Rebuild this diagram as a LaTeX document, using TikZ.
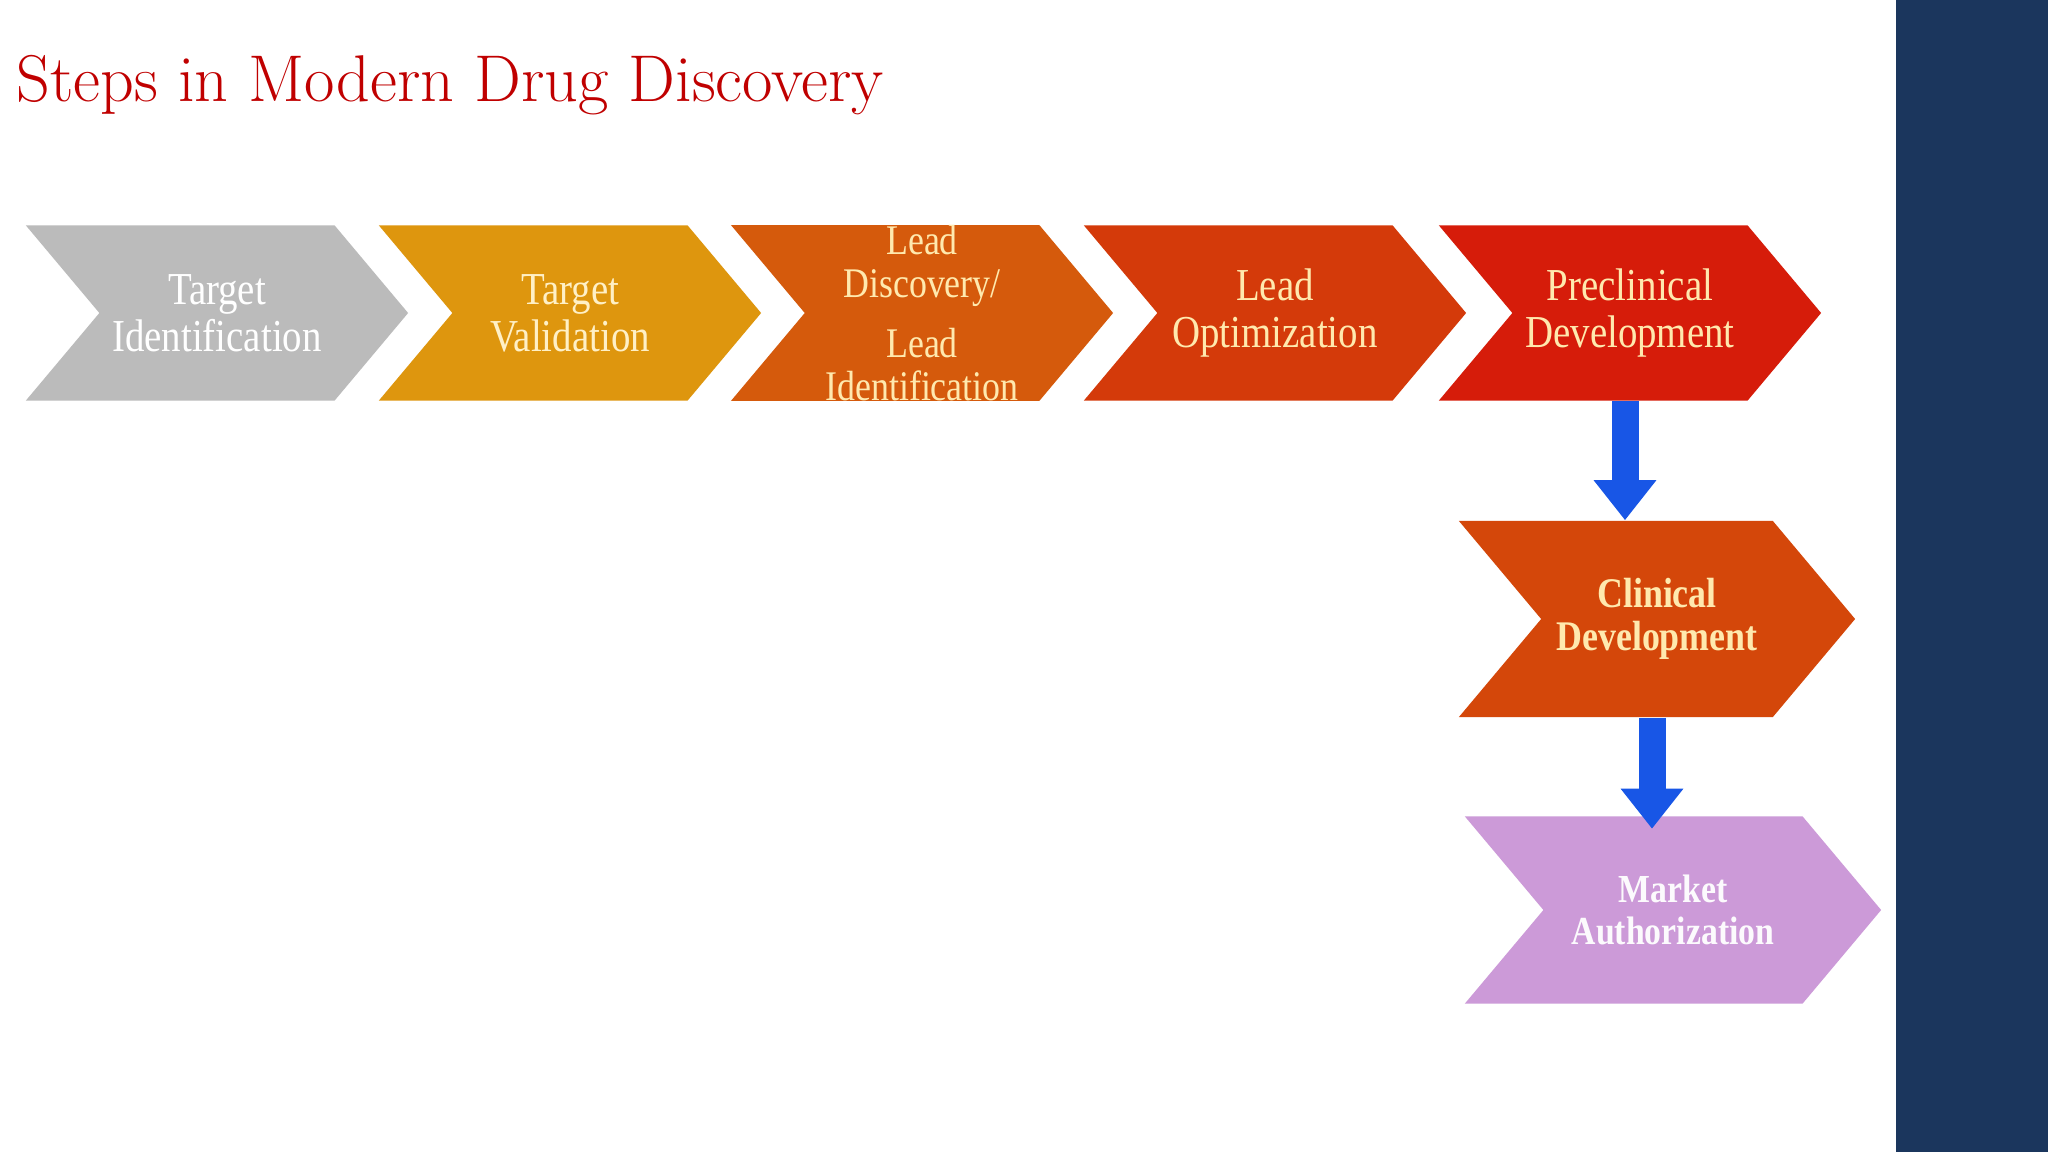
\documentclass[tikz,border=0pt]{standalone}
\usepackage{fontspec}
\usepackage{tikz}
\usetikzlibrary{arrows.meta, positioning, calc, shapes.symbols}
\newfontfamily\chevfont[FakeStretch=0.85]{Liberation Serif}
\definecolor{navy}{HTML}{1B365D}
\definecolor{ttl}{HTML}{C00000}
\definecolor{cgray}{HTML}{BBBBBB}
\definecolor{cgold}{HTML}{DE960E}
\definecolor{corange}{HTML}{D55A0C}
\definecolor{cred}{HTML}{D43A0A}
\definecolor{cdeep}{HTML}{D61C0A}
\definecolor{cclin}{HTML}{D4470A}
\definecolor{cmkt}{HTML}{CC9AD8}
\definecolor{ablue}{HTML}{1856E6}
\definecolor{pale}{HTML}{FFE9AE}

\begin{document}
\begin{tikzpicture}[x=0.01cm, y=-0.01cm,
      chev/.style={signal, signal to=east, signal from=west,
                   signal pointer angle=100, inner sep=0pt,
                   minimum width=3.82cm, minimum height=1.75cm,
                   align=center, text=pale,
                   font=\chevfont\fontsize{13}{13.4}\selectfont},
      flow/.style={draw=ablue, line width=0.27cm,
                   -{Triangle[width=0.6cm, length=0.4cm]}}]
    \useasboundingbox (0,0) rectangle (2048,1152);
    \fill[white] (0,0) rectangle (2048,1152);
    \fill[navy] (1896,0) rectangle (2048,1152);
    \node[anchor=base west, text=ttl, inner sep=0pt,
          font=\fontsize{18.8}{22}\selectfont] (title) at (16,102)
          {Steps in Modern Drug Discovery};
    % top row
    \node[chev, fill=cgray, text=white] (tid) at (217,313) {Target\\Identification};
    \node[chev, fill=cgold, text=pale!70!white] (tval) at (570,313) {Target\\Validation};
    \node[chev, fill=corange, font=\chevfont\fontsize{12}{12.2}\selectfont]
         (lead) at (922,313) {Lead\\Discovery/\\[5pt]Lead\\Identification};
    \node[chev, fill=cred] (opt) at (1275,313) {Lead\\Optimization};
    \node[chev, fill=cdeep] (pre) at (1630,313) {Preclinical\\Development};
    % down the right side
    \node[chev, fill=cclin, minimum width=3.96cm, minimum height=1.96cm,
          font=\chevfont\bfseries\fontsize{12}{12.2}\selectfont]
         (clin) at (1657,619) {Clinical\\Development};
    \node[chev, fill=cmkt, text=white!95!cmkt, minimum width=4.16cm, minimum height=1.87cm,
          font=\chevfont\bfseries\fontsize{11.3}{11.9}\selectfont]
         (mkt) at (1673,910) {Market\\Authorization};
    \draw[flow] ([xshift=-0.05cm]pre.south) -- ([xshift=-0.05cm]pre.south |- clin.north);
    \draw[flow] ([xshift=-0.05cm]clin.south) -- ([xshift=-0.05cm, yshift=-0.13cm]clin.south |- mkt.north);
  \end{tikzpicture}
\end{document}
